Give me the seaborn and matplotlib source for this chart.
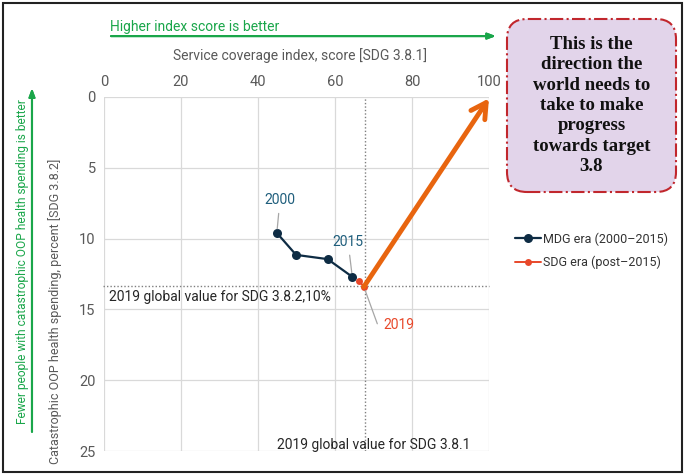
import matplotlib
matplotlib.use('Agg')
import matplotlib.pyplot as plt
import seaborn as sns
from matplotlib.patches import FancyBboxPatch, Rectangle

sns.set_theme(style='white')
plt.rcParams['font.family'] = ['Roboto', 'DejaVu Sans']

# service coverage index (SDG 3.8.1) vs catastrophic OOP spending (SDG 3.8.2)
mdg_sci = [44.9, 49.9, 58.1, 64.5]
mdg_oop = [9.6, 11.15, 11.45, 12.7]
sdg_sci = [66.3, 67.5]
sdg_oop = [13.0, 13.4]
global_sci_2019 = 67.7
global_oop_2019 = 13.35
target_point = (100, 0.1)

navy = '#0e2c44'
red = '#e8482a'
orange = '#e8650f'
green = '#1aa64a'
grey = '#595959'

fig = plt.figure(figsize=(6.85, 4.75), dpi=100)
ax = fig.add_axes([0.1518, 0.0505, 0.562, 0.7453])

sns.lineplot(x=mdg_sci, y=mdg_oop, sort=False, marker='o', color=navy, lw=1.6,
             markersize=6.5, markeredgewidth=0, label='MDG era (2000–2015)', ax=ax)
sns.lineplot(x=sdg_sci, y=sdg_oop, sort=False, marker='o', color=red, lw=1.4,
             markersize=5, markeredgewidth=0, label='SDG era (post–2015)', ax=ax)

# reference lines for 2019 global values
ax.axhline(global_oop_2019, color='#7f7f7f', ls=(0, (1, 1.5)), lw=1, zorder=1, clip_on=False,
           xmin=-0.003)
ax.axvline(global_sci_2019, color='#7f7f7f', ls=(0, (1, 1.5)), lw=1, zorder=1)

# direction arrow
ax.annotate('', xy=target_point, xytext=(sdg_sci[-1], sdg_oop[-1]),
            arrowprops=dict(arrowstyle='->,head_length=0.9,head_width=0.5', color=orange,
                            lw=3.5, shrinkA=0, shrinkB=0), annotation_clip=False, zorder=5)

ax.set_xlim(0, 100)
ax.set_ylim(25, 0)
ax.set_xticks(range(0, 101, 20))
ax.set_yticks(range(0, 26, 5))
ax.xaxis.tick_top()
ax.tick_params(length=0, labelsize=10.5, labelcolor=grey, pad=6)
ax.grid(True, color='#d9d9d9', lw=0.9)
for s in ax.spines.values():
    s.set_visible(False)
ax.set_xlabel('')
ax.set_ylabel('')

# year labels with leader lines
lead = dict(arrowstyle='-', color='#a6a6a6', lw=0.9, shrinkA=2, shrinkB=3)
ax.annotate('2000', xy=(mdg_sci[0], mdg_oop[0]), xytext=(45.7, 7.3), ha='center', va='center',
            color='#1f5e7c', fontsize=10, arrowprops=lead)
ax.annotate('2015', xy=(mdg_sci[-1], mdg_oop[-1]), xytext=(63.4, 10.25), ha='center',
            va='center', color='#1f5e7c', fontsize=10, arrowprops=lead)
ax.annotate('2019', xy=(sdg_sci[-1], sdg_oop[-1]), xytext=(72.5, 16.1), ha='left',
            va='center', color=red, fontsize=10,
            arrowprops=dict(arrowstyle='-', color='#a6a6a6', lw=0.9, shrinkA=2, shrinkB=3,
                            connectionstyle='angle,angleA=0,angleB=110,rad=0'))
ax.text(1.3, 14.1, '2019 global value for SDG 3.8.2,10%', fontsize=10, color='#262626',
        va='center', ha='left')
ax.text(70, 24.55, '2019 global value for SDG 3.8.1', fontsize=10, color='#262626',
        va='center', ha='center')

# axis titles placed on the figure
fig.text(0.438, 0.884, 'Service coverage index, score [SDG 3.8.1]', fontsize=10,
         color=grey, ha='center', va='center')
fig.text(0.081, 0.345, 'Catastrophic OOP health spending, percent [SDG 3.8.2]', fontsize=9,
         color=grey, ha='center', va='center', rotation=90)

# green direction hints
fig.text(0.161, 0.943, 'Higher index score is better', fontsize=10, color=green,
         ha='left', va='center')
fig.add_artist(plt.annotate('', xy=(0.728, 0.924), xytext=(0.158, 0.924),
                            xycoords='figure fraction',
                            arrowprops=dict(arrowstyle='-|>,head_length=0.4,head_width=0.15',
                                            color=green, lw=1.5)))
fig.text(0.033, 0.45, 'Fewer people with catastrophic OOP health spending is better',
         fontsize=8.6, color=green, ha='center', va='center', rotation=90)
fig.add_artist(plt.annotate('', xy=(0.0467, 0.82), xytext=(0.0467, 0.085),
                            xycoords='figure fraction',
                            arrowprops=dict(arrowstyle='-|>,head_length=0.4,head_width=0.15',
                                            color=green, lw=1.5)))

# callout box
box = FancyBboxPatch((5.07, 2.83), 1.69, 1.73, boxstyle='round,pad=0,rounding_size=0.2',
                     transform=fig.dpi_scale_trans, facecolor='#e2d4ea', edgecolor='#c1272d',
                     lw=1.5, ls='-.')
fig.add_artist(box)
fig.text(5.915, 3.695,
         'This is the\ndirection the\nworld needs to\ntake to make\nprogress\ntowards target\n3.8',
         transform=fig.dpi_scale_trans, ha='center', va='center', fontsize=13.5,
         fontweight='bold', family=['Liberation Serif', 'DejaVu Serif'], linespacing=1.26,
         color='#111111')

# legend
ax.get_legend().remove()
h, l = ax.get_legend_handles_labels()
fig.legend(h, l, loc='center left', bbox_to_anchor=(0.735, 0.472), frameon=False,
           fontsize=9, handlelength=2.1, handletextpad=0.2, labelspacing=0.8,
           labelcolor='#333333')

# outer frame
fig.add_artist(Rectangle((0.004, 0.006), 0.992, 0.988, transform=fig.transFigure,
                         fill=False, edgecolor='#222222', lw=1.5))

fig.savefig('out.png', dpi=100)
